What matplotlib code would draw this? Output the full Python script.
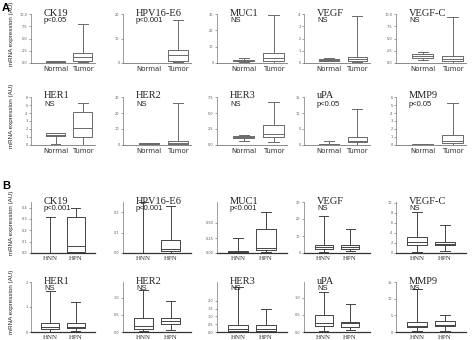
import matplotlib
matplotlib.use('Agg')
import matplotlib.pyplot as plt

# panel A: normal vs tumor
genes = ['CK19', 'HPV16-E6', 'MUC1', 'VEGF', 'VEGF-C', 'HER1', 'HER2', 'HER3', 'uPA', 'MMP9']
pvals_a = ['p<0.05', 'p<0.001', 'NS', 'NS', 'NS', 'NS', 'NS', 'NS', 'p<0.05', 'p<0.05']
normal = [[0.1, 0.2, 0.3, 0.4, 0.5],
          [0.0, 0.0, 0.05, 0.1, 0.2],
          [0.5, 1.0, 1.3, 1.6, 2.9],
          [0.15, 0.2, 0.28, 0.33, 0.38],
          [0.7, 1.0, 1.5, 1.9, 2.2],
          [0.1, 1.1, 1.3, 1.45, 1.55],
          [0.6, 0.8, 1.0, 1.1, 1.3],
          [0.7, 1.1, 1.25, 1.35, 1.55],
          [0.0, 0.1, 0.25, 0.4, 1.4],
          [0.0, 0.02, 0.05, 0.08, 0.1]]
tumor = [[0.2, 0.5, 1.2, 2.0, 8.0],
         [0.3, 0.7, 3.4, 5.2, 17.6],
         [0.3, 1.4, 3.1, 6.2, 29.5],
         [0.05, 0.14, 0.33, 0.5, 3.85],
         [0.1, 0.5, 0.8, 1.4, 9.3],
         [0.05, 1.0, 2.1, 4.1, 5.2],
         [0.2, 0.7, 1.3, 2.6, 26.0],
         [0.4, 1.2, 1.7, 3.1, 6.7],
         [0.1, 0.85, 1.4, 2.4, 11.2],
         [0.0, 0.3, 0.45, 1.2, 5.2]]
ymax_a = [10, 20, 30, 4, 10, 6, 30, 7.5, 15, 6]
yticks_a = [[0, 2.5, 5, 7.5, 10], [0, 10, 20], [0, 10, 20, 30], [0, 1, 2, 3, 4],
            [0, 2.5, 5, 7.5, 10], [0, 1, 2, 3, 4, 5, 6], [0, 10, 20, 30],
            [0, 2.5, 5, 7.5], [0, 5, 10, 15], [0, 1, 2, 3, 4, 5, 6]]

# panel B: HNN vs HPN
pvals_b = ['p<0.001', 'p<0.001', 'p<0.001', 'NS', 'NS', 'NS', 'NS', 'NS', 'NS', 'NS']
hnn = [[0, 0, 0, 0, 0.315],
       [0, 0, 0, 0, 0.25],
       [0.0, 0.01, 0.02, 0.04, 0.25],
       [0.6, 2.5, 3.4, 4.9, 22.0],
       [0.2, 1.7, 2.3, 3.2, 8.2],
       [0.0, 0.11, 0.22, 0.38, 1.66],
       [0.02, 0.1, 0.18, 0.4, 1.22],
       [0.0, 0.06, 0.2, 0.44, 2.9],
       [0.03, 0.18, 0.25, 0.48, 1.15],
       [0.2, 1.5, 1.8, 3.0, 13.0]]
hpn = [[0, 0.01, 0.06, 0.32, 0.4],
       [0, 0.008, 0.022, 0.063, 0.23],
       [0.01, 0.05, 0.08, 0.4, 0.68],
       [1.1, 2.5, 3.4, 4.9, 13.9],
       [0.5, 1.7, 1.9, 2.2, 5.7],
       [0.04, 0.15, 0.22, 0.38, 1.19],
       [0.05, 0.22, 0.33, 0.4, 0.9],
       [0.0, 0.06, 0.2, 0.48, 1.5],
       [0.05, 0.15, 0.25, 0.28, 0.8],
       [0.2, 1.7, 2.0, 3.2, 5.2]]
ymax_b = [0.45, 0.25, 0.85, 30, 10.2, 2, 1.45, 3.2, 1.45, 15]
yticks_b = [[0, 0.1, 0.2, 0.3, 0.4], [0, 0.1, 0.2], [0, 0.25, 0.5], [0, 10, 20, 30],
            [0, 2, 4, 6, 8, 10], [0, 1, 2], [0, 0.5, 1.0], [0, 0.5, 1.0, 1.5, 2.0],
            [0, 0.5, 1.0], [0, 5, 10, 15]]

W, H = 474, 340
fig = plt.figure(figsize=(W / 100, H / 100), dpi=100)

lefts = [31, 123, 217, 304, 396]
widths = [64, 68, 70, 66, 70]
rows = [(14, 63), (97, 145), (202, 253), (282, 332)]


def to_stats(v, label):
    return dict(whislo=v[0], q1=v[1], med=v[2], q3=v[3], whishi=v[4], label=label, fliers=[])


def draw(ax_rect, s1, s2, labels, ymax, yt, gene, pv, panel_b):
    l, t, w, b = ax_rect
    ax = fig.add_axes([l / W, 1 - b / H, w / W, (b - t) / H])
    col = '#444444' if panel_b else '#6a6a6a'
    ax.bxp([to_stats(s1, labels[0]), to_stats(s2, labels[1])], positions=[1, 2],
           widths=0.7, showfliers=False,
           boxprops=dict(color=col, lw=0.7), whiskerprops=dict(color=col, lw=0.7),
           capprops=dict(color=col, lw=0.7), medianprops=dict(color=col, lw=0.7))
    ax.set_xlim(0.1 if not panel_b else 0.25, 2.45 if not panel_b else 2.75)
    ax.set_ylim(0, ymax)
    ax.set_yticks(yt)
    for sp in ['top', 'right']:
        ax.spines[sp].set_visible(False)
    ax.spines['left'].set_color('#777777')
    ax.spines['left'].set_linewidth(0.5)
    ax.spines['bottom'].set_color('#333333' if panel_b else '#777777')
    ax.spines['bottom'].set_linewidth(0.9 if panel_b else 0.6)
    ax.tick_params(axis='y', labelsize=2.5, length=1.5, width=0.4, colors='#555555', pad=1)
    ax.tick_params(axis='x', length=0, pad=2)
    for lab in ax.get_xticklabels():
        lab.set_fontfamily('Liberation Serif' if panel_b else 'DejaVu Sans')
        lab.set_fontsize(5)
        lab.set_color('#333333')
    fig.text((l + 13) / W, 1 - (t - 1) / H, gene, fontsize=7.5, family='Liberation Serif',
             va='center', ha='left', color='#222222')
    fig.text((l + 13) / W, 1 - (t + 7) / H, pv, fontsize=5.5, family='Liberation Sans',
             va='center', ha='left', color='#222222')
    return ax


for r in range(4):
    t, b = rows[r]
    for c in range(5):
        i = (r % 2) * 5 + c
        rect = (lefts[c], t, widths[c], b)
        if r < 2:
            draw(rect, normal[i], tumor[i], ['Normal', 'Tumor'], ymax_a[i], yticks_a[i],
                 genes[i], pvals_a[i], False)
        else:
            draw(rect, hnn[i], hpn[i], ['HNN', 'HPN'], ymax_b[i], yticks_b[i],
                 genes[i], pvals_b[i], True)
    fig.text(12 / W, 1 - ((t + b) / 2 - 5) / H, 'mRNA expression (AU)', rotation=90,
             fontsize=4.5, family='Liberation Sans', ha='center', va='center', color='#222222')

fig.text(2 / W, 1 - 8 / H, 'A', fontsize=8, fontweight='bold', family='Liberation Sans', va='center')
fig.text(2 / W, 1 - 186 / H, 'B', fontsize=8, fontweight='bold', family='Liberation Sans', va='center')

fig.savefig('out.png', dpi=100, facecolor='white')
